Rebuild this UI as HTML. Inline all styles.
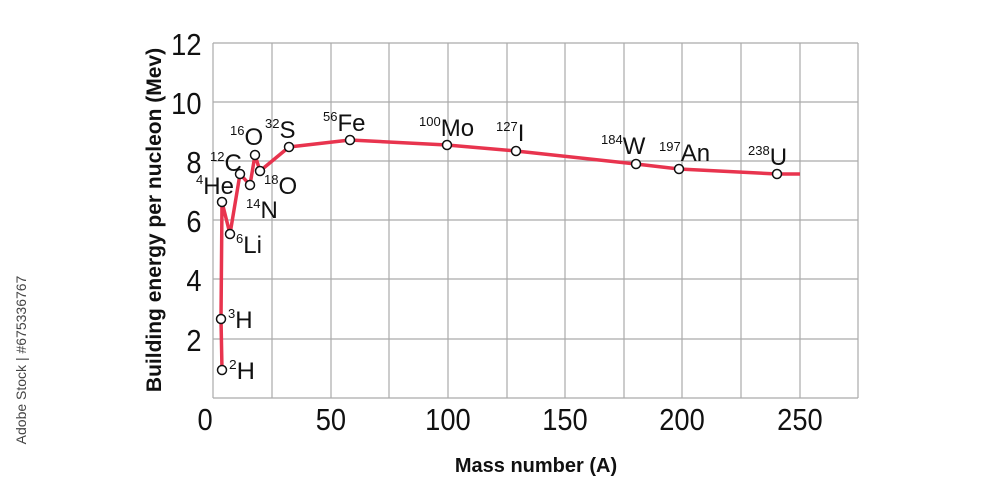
<!DOCTYPE html>
<html><head><meta charset="utf-8"><style>
html,body{margin:0;padding:0;background:#fff;}
svg{display:block;}
text{font-family:"Liberation Sans","DejaVu Sans",sans-serif;fill:#111;}
</style></head><body>
<svg width="1000" height="503" viewBox="0 0 1000 503" xmlns="http://www.w3.org/2000/svg">
<g stroke="#aaaaaa" stroke-width="1.2">
<line x1="213" y1="43" x2="858" y2="43"/>
<line x1="213" y1="102" x2="858" y2="102"/>
<line x1="213" y1="161" x2="858" y2="161"/>
<line x1="213" y1="220" x2="858" y2="220"/>
<line x1="213" y1="279" x2="858" y2="279"/>
<line x1="213" y1="339" x2="858" y2="339"/>
<line x1="213" y1="398" x2="858" y2="398"/>
<line x1="213" y1="43" x2="213" y2="398"/>
<line x1="272" y1="43" x2="272" y2="398"/>
<line x1="331" y1="43" x2="331" y2="398"/>
<line x1="389" y1="43" x2="389" y2="398"/>
<line x1="448" y1="43" x2="448" y2="398"/>
<line x1="507" y1="43" x2="507" y2="398"/>
<line x1="565" y1="43" x2="565" y2="398"/>
<line x1="624" y1="43" x2="624" y2="398"/>
<line x1="682" y1="43" x2="682" y2="398"/>
<line x1="741" y1="43" x2="741" y2="398"/>
<line x1="800" y1="43" x2="800" y2="398"/>
<line x1="858" y1="43" x2="858" y2="398"/>
</g>
<polyline fill="none" stroke="#e8344e" stroke-width="3.5" stroke-linejoin="round" points="222,370 221,319 222,202 230,234 240,174 250,185 255,155 260,171 289,147 350,140 447,145 516,151 636,164 679,169 777,174 800,174"/>
<g fill="#fff" stroke="#111" stroke-width="1.5">
<circle cx="222" cy="370" r="4.5"/><circle cx="221" cy="319" r="4.5"/><circle cx="222" cy="202" r="4.5"/>
<circle cx="230" cy="234" r="4.5"/><circle cx="240" cy="174" r="4.5"/><circle cx="250" cy="185" r="4.5"/>
<circle cx="255" cy="155" r="4.5"/><circle cx="260" cy="171" r="4.5"/><circle cx="289" cy="147" r="4.5"/>
<circle cx="350" cy="140" r="4.5"/><circle cx="447" cy="145" r="4.5"/><circle cx="516" cy="151" r="4.5"/>
<circle cx="636" cy="164" r="4.5"/><circle cx="679" cy="169" r="4.5"/><circle cx="777" cy="174" r="4.5"/>
</g>
<g font-size="31" text-anchor="end" transform="scale(0.88,1)">
<text x="229" y="55">12</text><text x="229" y="114">10</text><text x="229" y="173">8</text>
<text x="229" y="232">6</text><text x="229" y="291">4</text><text x="229" y="351">2</text>
</g>
<g font-size="31" text-anchor="middle" transform="scale(0.88,1)">
<text x="233" y="430">0</text><text x="376" y="430">50</text><text x="509" y="430">100</text>
<text x="642" y="430">150</text><text x="775" y="430">200</text><text x="909" y="430">250</text>
</g>
<text x="536" y="472" font-size="20" font-weight="bold" text-anchor="middle">Mass number (A)</text>
<text transform="translate(161,220) rotate(-90)" font-size="21" font-weight="bold" text-anchor="middle">Building energy per nucleon (Mev)</text>
<text transform="translate(26,360) rotate(-90)" font-size="14" style="fill:#444" text-anchor="middle">Adobe Stock | #675336767</text>
<g font-size="24">
<text x="229" y="379" textLength="26" lengthAdjust="spacingAndGlyphs"><tspan font-size="13" dy="-10">2</tspan><tspan dy="10">H</tspan></text>
<text x="228" y="328"><tspan font-size="13" dy="-10">3</tspan><tspan dy="10">H</tspan></text>
<text x="196" y="194"><tspan font-size="13" dy="-10">4</tspan><tspan dy="10">He</tspan></text>
<text x="236" y="253"><tspan font-size="13" dy="-10">6</tspan><tspan dy="10">Li</tspan></text>
<text x="210" y="171"><tspan font-size="13" dy="-10">12</tspan><tspan dy="10">C</tspan></text>
<text x="246" y="218"><tspan font-size="13" dy="-10">14</tspan><tspan dy="10">N</tspan></text>
<text x="230" y="145"><tspan font-size="13" dy="-10">16</tspan><tspan dy="10">O</tspan></text>
<text x="264" y="194"><tspan font-size="13" dy="-10">18</tspan><tspan dy="10">O</tspan></text>
<text x="265" y="138"><tspan font-size="13" dy="-10">32</tspan><tspan dy="10">S</tspan></text>
<text x="323" y="131"><tspan font-size="13" dy="-10">56</tspan><tspan dy="10">Fe</tspan></text>
<text x="419" y="136"><tspan font-size="13" dy="-10">100</tspan><tspan dy="10">Mo</tspan></text>
<text x="496" y="141"><tspan font-size="13" dy="-10">127</tspan><tspan dy="10">I</tspan></text>
<text x="601" y="154"><tspan font-size="13" dy="-10">184</tspan><tspan dy="10">W</tspan></text>
<text x="659" y="161"><tspan font-size="13" dy="-10">197</tspan><tspan dy="10">An</tspan></text>
<text x="748" y="165"><tspan font-size="13" dy="-10">238</tspan><tspan dy="10">U</tspan></text>
</g>
</svg>
</body></html>
